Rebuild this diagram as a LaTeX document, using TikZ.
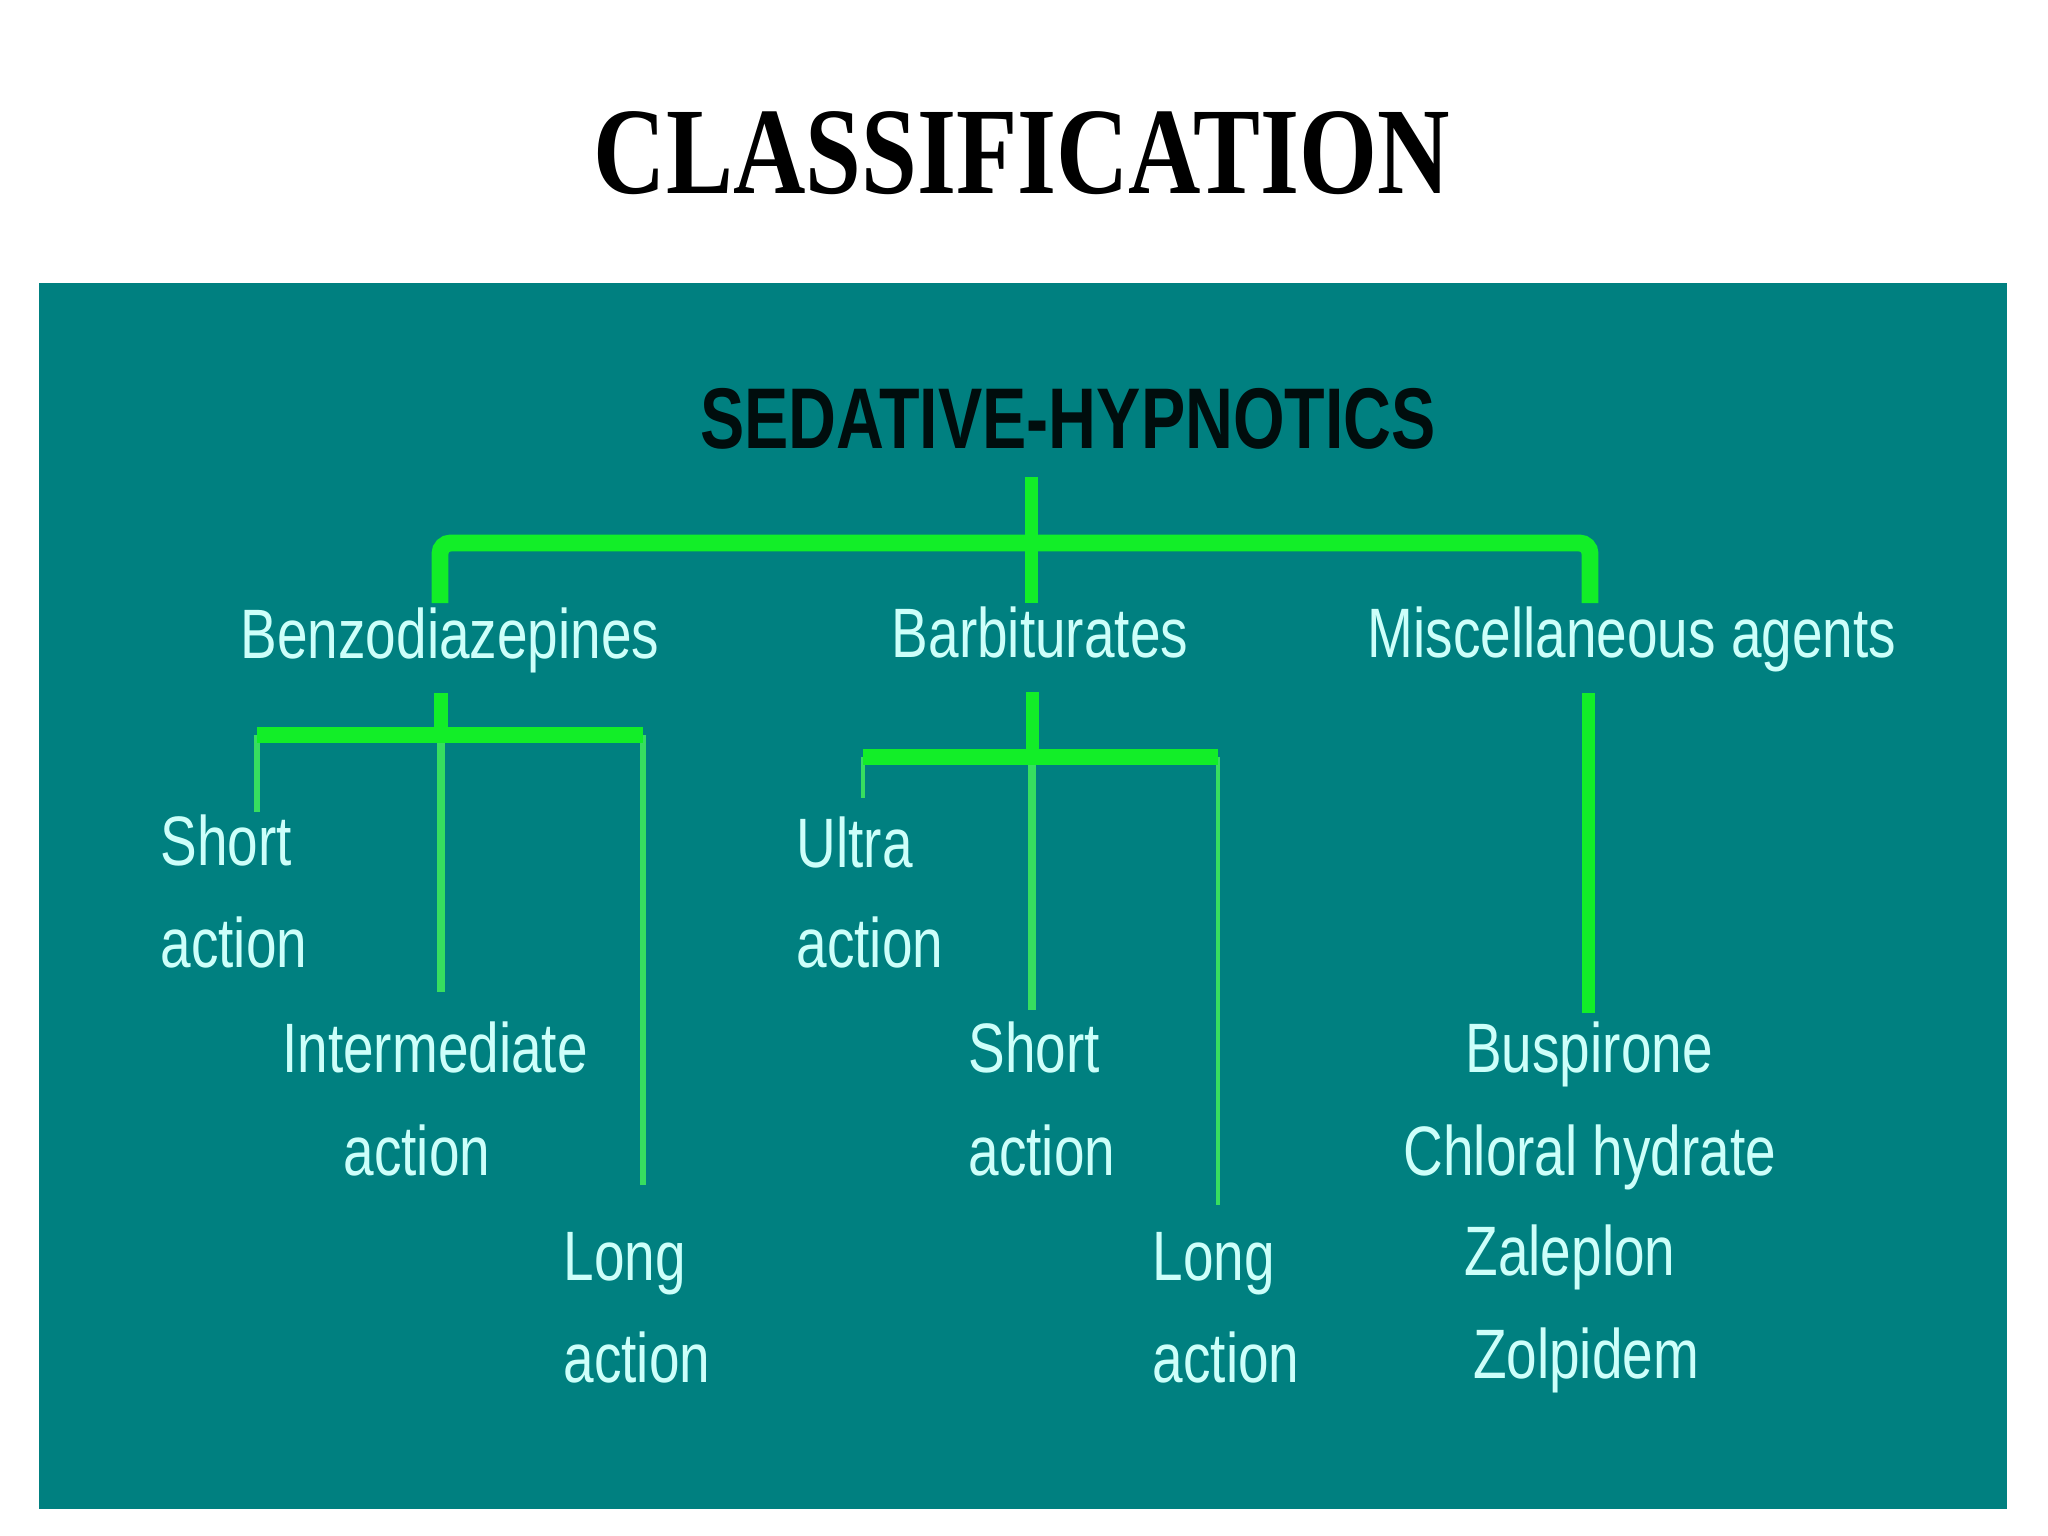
\documentclass[tikz,border=0pt]{standalone}
\usepackage{fontspec}
\newfontfamily\titlef[FakeStretch=0.81]{Liberation Serif}
\newfontfamily\rootf[FakeStretch=0.77]{Liberation Sans}
\newfontfamily\labf[FakeStretch=0.785]{Liberation Sans}
\definecolor{teal1}{RGB}{0,128,128}
\definecolor{gthick}{RGB}{18,238,40}
\definecolor{gthin}{RGB}{55,222,95}
\definecolor{labc}{RGB}{205,255,250}
\tikzset{
  ttl/.style={inner sep=0pt, anchor=base, font=\titlef\bfseries\fontsize{35.2}{40}\selectfont, text=black},
  rootlab/.style={inner sep=0pt, anchor=base, font=\rootf\bfseries\fontsize{24.5}{28}\selectfont, text=black!90!teal1},
  lab/.style={inner sep=0pt, font=\labf\fontsize{19.9}{24}\selectfont, text=labc},
  labc/.style={lab, anchor=base},
  labl/.style={lab, anchor=base west},
  bar/.style={draw=gthick, line width=4.8pt, line cap=butt},
  trunk/.style={draw=gthick, line width=3.7pt, line cap=butt},
  twig/.style={draw=gthin, line width=1.5pt, line cap=butt},
  midtwig/.style={draw=gthin, line width=2.2pt, line cap=butt}
}
\begin{document}
\begin{tikzpicture}[x=0.01cm, y=-0.01cm]
\useasboundingbox (0,0) rectangle (2048,1536);
\fill[white] (0,0) rectangle (2048,1536);
\fill[teal1] (39,283) rectangle (2007,1509);

% title and root
\node[ttl] (title) at (1022,193) {CLASSIFICATION};
\node[rootlab] (root) at (1068,448) {SEDATIVE-HYPNOTICS};

% first level
\node[labc] (benzo) at (450,658) {Benzodiazepines};
\node[labc] (barb) at (1040,657) {Barbiturates};
\node[labc] (misc) at (1632,657) {Miscellaneous agents};

% benzodiazepines children
\node[labl] (bsA) at (160,865) {Short};
\node[labl] (bsB) at (160,967) {action};
\node[labc] (biA) at (435,1072) {Intermediate};
\node[labc] (biB) at (417,1175) {action};
\node[labl] (blA) at (563,1280) {Long};
\node[labl] (blB) at (563,1382) {action};

% barbiturates children
\node[labl] (buA) at (796,867) {Ultra};
\node[labl] (buB) at (796,967) {action};
\node[labl] (brsA) at (968,1072) {Short};
\node[labl] (brsB) at (968,1175) {action};
\node[labl] (brlA) at (1152,1280) {Long};
\node[labl] (brlB) at (1152,1382) {action};

% miscellaneous list
\node[labc] (m1) at (1589,1072) {Buspirone};
\node[labc] (m2) at (1590,1175) {Chloral hydrate};
\node[labc] (m3) at (1570,1275) {Zaleplon};
\node[labc] (m4) at (1586,1378) {Zolpidem};

% junction coordinates
\coordinate (rtop) at (1031,477);
\coordinate (rbot) at (1031,603);
\coordinate (tL) at (440,543);
\coordinate (tR) at (1590,543);
\coordinate (tLd) at (440,603);
\coordinate (tRd) at (1590,603);

\coordinate (bz0) at (441,693);
\coordinate (bzJ) at (441,735);
\coordinate (bzL) at (257,735);
\coordinate (bzR) at (643,735);
\coordinate (bzLe) at (257,812);
\coordinate (bzMe) at (441,992);
\coordinate (bzRe) at (643,1185);

\coordinate (br0) at (1032,692);
\coordinate (brJ) at (1032,757);
\coordinate (brL) at (863,757);
\coordinate (brR) at (1218,757);
\coordinate (brLe) at (863,798);
\coordinate (brMe) at (1032,1010);
\coordinate (brRe) at (1218,1205);

\coordinate (ms0) at (1588,693);
\coordinate (msE) at (1588,1013);

% top level connectors
\draw[bar, rounded corners=3pt] (tLd) -- (tL) -- (tR) -- (tRd);
\draw[trunk] (rtop) -- (rbot);

% benzodiazepines connectors
\draw[twig] (bzL) -- (bzLe);
\draw[midtwig] (bzJ) -- (bzMe);
\draw[twig] (bzR) -- (bzRe);
\draw[bar, line width=4.3pt] (bzL) -- (bzR);
\draw[trunk] (bz0) -- (bzJ);

% barbiturates connectors
\draw[twig, line width=1.2pt] (brL) -- (brLe);
\draw[midtwig] (brJ) -- (brMe);
\draw[twig, line width=1.2pt] (brR) -- (brRe);
\draw[bar] (brL) -- (brR);
\draw[trunk] (br0) -- (brJ);

% miscellaneous connector
\draw[trunk] (ms0) -- (msE);
\end{tikzpicture}
\end{document}
